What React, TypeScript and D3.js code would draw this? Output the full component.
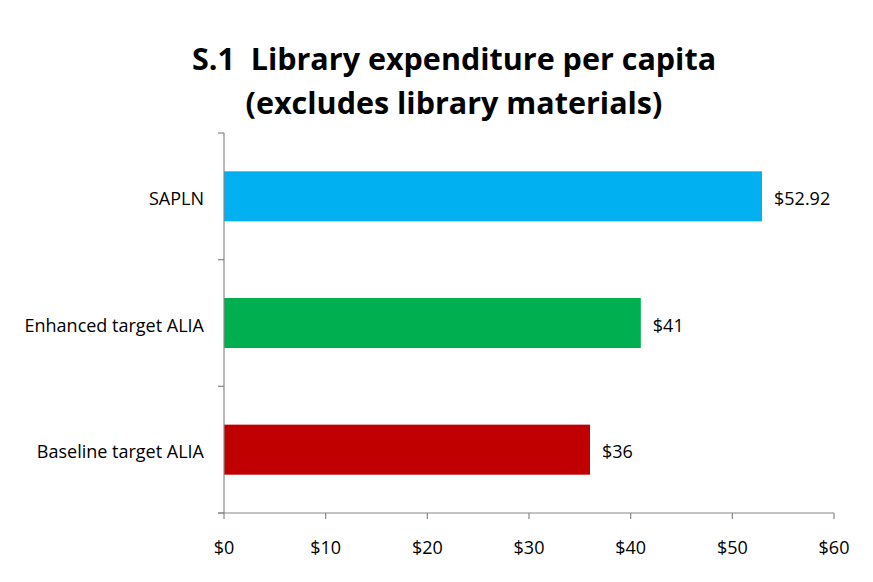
import React from "react";
import * as d3 from "d3";

const categories = ["SAPLN", "Enhanced target ALIA", "Baseline target ALIA"];
const values = [52.92, 41, 36];
const valueLabels = ["$52.92", "$41", "$36"];
const colors = ["#00B0F0", "#00B050", "#C00000"];
const xTicks = [0, 10, 20, 30, 40, 50, 60];
const titleLines = ["S.1  Library expenditure per capita", "(excludes library materials)"];

const W = 873;
const H = 582;
const left = 224;
const right = 834;
const top = 133;
const bottom = 513;
const font = "'Open Sans', sans-serif";

export default function App() {
  const x = d3.scaleLinear().domain([0, 60]).range([left, right]);
  const y = d3.scaleBand<string>().domain(categories).range([top, bottom]).padding(0);
  const barH = y.bandwidth() * 0.395;
  const axisColor = "#868686";
  return (
    <svg width={W} height={H} style={{ position: "absolute", left: 0, top: 0 }}>
      <rect width={W} height={H} fill="#fff" />
      {titleLines.map((t, i) => (
        <text key={i} x={454} y={70 + i * 44} textAnchor="middle" fontFamily={font} fontWeight="bold" fontSize={30.5} fill="#000" style={{ whiteSpace: "pre" }}>
          {t}
        </text>
      ))}
      {categories.map((c, i) => {
        const yc = (y(c) as number) + y.bandwidth() / 2;
        return (
          <g key={c}>
            <rect x={x(0)} y={yc - barH / 2} width={x(values[i]) - x(0)} height={barH} fill={colors[i]} />
            <text x={x(0) - 20} y={yc + 8.5} textAnchor="end" fontFamily={font} fontSize={18} fill="#000">{c}</text>
            <text x={x(values[i]) + 12} y={yc + 8.5} textAnchor="start" fontFamily={font} fontSize={18} fill="#000">{valueLabels[i]}</text>
          </g>
        );
      })}
      <line x1={left} x2={left} y1={top} y2={bottom} stroke={axisColor} strokeWidth={1.2} />
      {[...categories.map((c) => y(c) as number), bottom].map((v, i) => (
        <line key={i} x1={left - 6} x2={left} y1={v} y2={v} stroke={axisColor} strokeWidth={1.2} />
      ))}
      <line x1={left - 6} x2={right} y1={bottom} y2={bottom} stroke={axisColor} strokeWidth={1.2} />
      {xTicks.map((t) => (
        <g key={t}>
          <line x1={x(t)} x2={x(t)} y1={bottom} y2={bottom + 6} stroke={axisColor} strokeWidth={1.2} />
          <text x={x(t)} y={554} textAnchor="middle" fontFamily={font} fontSize={18} fill="#000">${t}</text>
        </g>
      ))}
    </svg>
  );
}
